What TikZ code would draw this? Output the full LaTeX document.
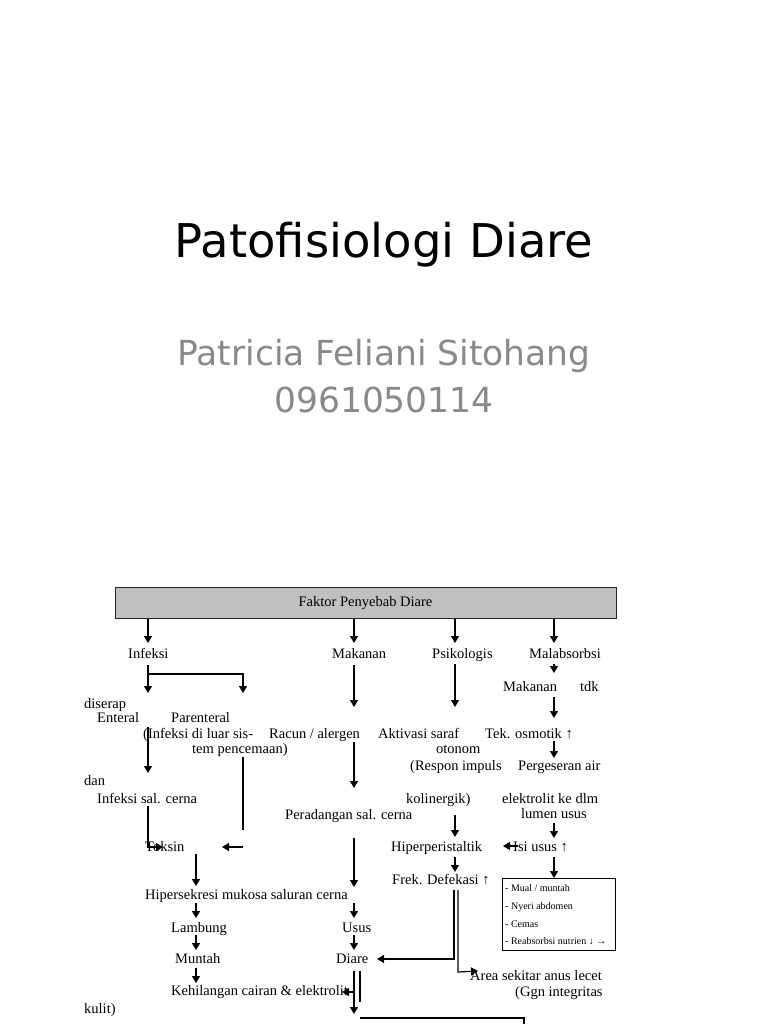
\documentclass[tikz,border=0pt]{standalone}
\usepackage{fontspec}
\setmainfont{Liberation Serif}
\newfontfamily\djv{DejaVu Sans}
\usetikzlibrary{arrows.meta}
\definecolor{boxgray}{HTML}{C0C0C0}
\definecolor{subgray}{HTML}{898989}
\begin{document}
\begin{tikzpicture}[x=1pt,y=-1pt,
 t/.style={anchor=base west, inner sep=0, font=\fontsize{14.5}{17}\selectfont},
 s/.style={anchor=base west, inner sep=0, font=\fontsize{10}{12}\selectfont},
 ln/.style={line width=1.2pt},
 arr/.style={line width=1.2pt,-{Triangle[length=7pt,width=8pt]}}]
\useasboundingbox (0,0) rectangle (768,1024);
\fill[white] (0,0) rectangle (768,1024);
% title
\node[anchor=base,inner sep=0,font=\djv\fontsize{46.5}{50}\selectfont] (title) at (384,257) {Patofisiologi Diare};
\node[anchor=base,inner sep=0,text=subgray,font=\djv\fontsize{34.5}{40}\selectfont] (author) at (384,365) {Patricia Feliani Sitohang};
\node[anchor=base,inner sep=0,text=subgray,font=\djv\fontsize{34.5}{40}\selectfont] (nim) at (384,412) {0961050114};
% main box
\node[draw=black!85,line width=1pt,fill=boxgray,minimum width=501pt,minimum height=31pt,inner sep=0,font=\fontsize{14.5}{17}\selectfont] (faktor) at (365.5,603) {Faktor Penyebab Diare};
% texts
\node[t] (infeksi) at (128,658) {Infeksi};
\node[t] (makanan) at (332,658) {Makanan};
\node[t] (psikologis) at (432,658) {Psikologis};
\node[t] (malabsorbsi) at (529,658) {Malabsorbsi};
\node[t] (makanan2) at (503,691) {Makanan};
\node[t] (tdk) at (580,691) {tdk};
\node[t] (diserap) at (84,708) {diserap};
\node[t] (enteral) at (97,722) {Enteral};
\node[t] (parenteral) at (171,722) {Parenteral};
\node[t] (influar) at (143,738) {(Infeksi di luar sis-};
\node[t] (tempenc) at (192,753) {tem pencemaan)};
\node[t] (racun) at (269,738) {Racun / alergen};
\node[t] (aktivasi) at (378,738) {Aktivasi saraf};
\node[t] (tek) at (485,738) {Tek. osmotik ↑};
\node[t] (otonom) at (436,753) {otonom};
\node[t] (respon) at (410,770) {(Respon impuls};
\node[t] (pergeseran) at (518,770) {Pergeseran air};
\node[t] (dan) at (84,785) {dan};
\node[t] (infsal) at (97,803) {Infeksi sal. cerna};
\node[t] (kolinergik) at (406,803) {kolinergik)};
\node[t] (elektrolit) at (502,803) {elektrolit ke dlm};
\node[t] (peradangan) at (285,819) {Peradangan sal. cerna};
\node[t] (lumen) at (521,818) {lumen usus};
\node[t] (toksin) at (145,851) {Toksin};
\node[t] (hiperper) at (391,851) {Hiperperistaltik};
\node[t] (isiusus) at (513,851) {Isi usus ↑};
\node[t] (frek) at (392,884) {Frek. Defekasi ↑};
\node[t] (hipersek) at (145,899) {Hipersekresi mukosa saluran cerna};
\node[t] (lambung) at (171,932) {Lambung};
\node[t] (usus) at (342,932) {Usus};
\node[t] (muntah) at (175,963) {Muntah};
\node[t] (diare) at (336,963) {Diare};
\node[t] (kehilangan) at (171,995) {Kehilangan cairan \& elektrolit};
\node[t] (area) at (470,980) {Area sekitar anus lecet};
\node[t] (ggn) at (515,996) {(Ggn integritas};
\node[t] (kulit) at (84,1013) {kulit)};
% small list box
\node[draw,line width=1pt,minimum width=113pt,minimum height=72pt,anchor=north west,inner sep=0] (list) at (502,878) {};
\node[s] (l1) at (505,891) {- Mual / muntah};
\node[s] (l2) at (505,909) {- Nyeri abdomen};
\node[s] (l3) at (505,927) {- Cemas};
\node[s] (l4) at (505,944) {- Reabsorbsi nutrien ↓ →};
% connectors from main box
\draw[arr] (faktor.south -| 148,0) -- (148,643);
\draw[arr] (faktor.south -| 354,0) -- (354,643);
\draw[arr] (faktor.south -| 455,0) -- (455,643);
\draw[arr] (faktor.south -| 554,0) -- (554,643);
% infeksi branch
\draw[arr] (148,665) -- (148,693);
\draw[arr] (148,674) -| (243,693);
\draw[arr] (354,665) -- (354,707);
\draw[arr] (455,664) -- (455,707);
\draw[arr] (554,664) -- (554,673);
\draw[arr] (554,697) -- (554,718);
\draw[arr] (554,741) -- (554,758);
\draw[arr] (554,823) -- (554,838);
\draw[arr] (518,846) -- (503,846);
\draw[arr] (554,857) -- (list.north -| 554,0);
\draw[arr] (455,815) -- (455,837);
\draw[arr] (455,857) -- (455,872);
\draw[arr] (454,890) |- (377,959);
\draw[arr] (458,890) -- (458,972) -- (478,971);
% left side
\draw[arr] (148,727) -- (148,773);
\draw[arr] (148,806) -- (148,847) -- (163,847);
\draw[ln] (243,757) -- (243,830);
\draw[arr] (243,847) -- (222,847);
\draw[arr] (196,854) -- (196,886);
\draw[arr] (354,742) -- (354,788);
\draw[arr] (354,838) -- (354,887);
\draw[arr] (196,903) -- (196,918);
\draw[arr] (354,903) -- (354,918);
\draw[arr] (196,935) -- (196,950);
\draw[arr] (354,935) -- (354,950);
\draw[arr] (196,968) -- (196,983);
\draw[arr] (354,971) -- (354,1014);
\draw[arr] (354,992) -- (342,992);
\draw[ln] (360,971) -- (360,1002);
\draw[ln] (360,1018) -| (524,1030);
\end{tikzpicture}
\end{document}
